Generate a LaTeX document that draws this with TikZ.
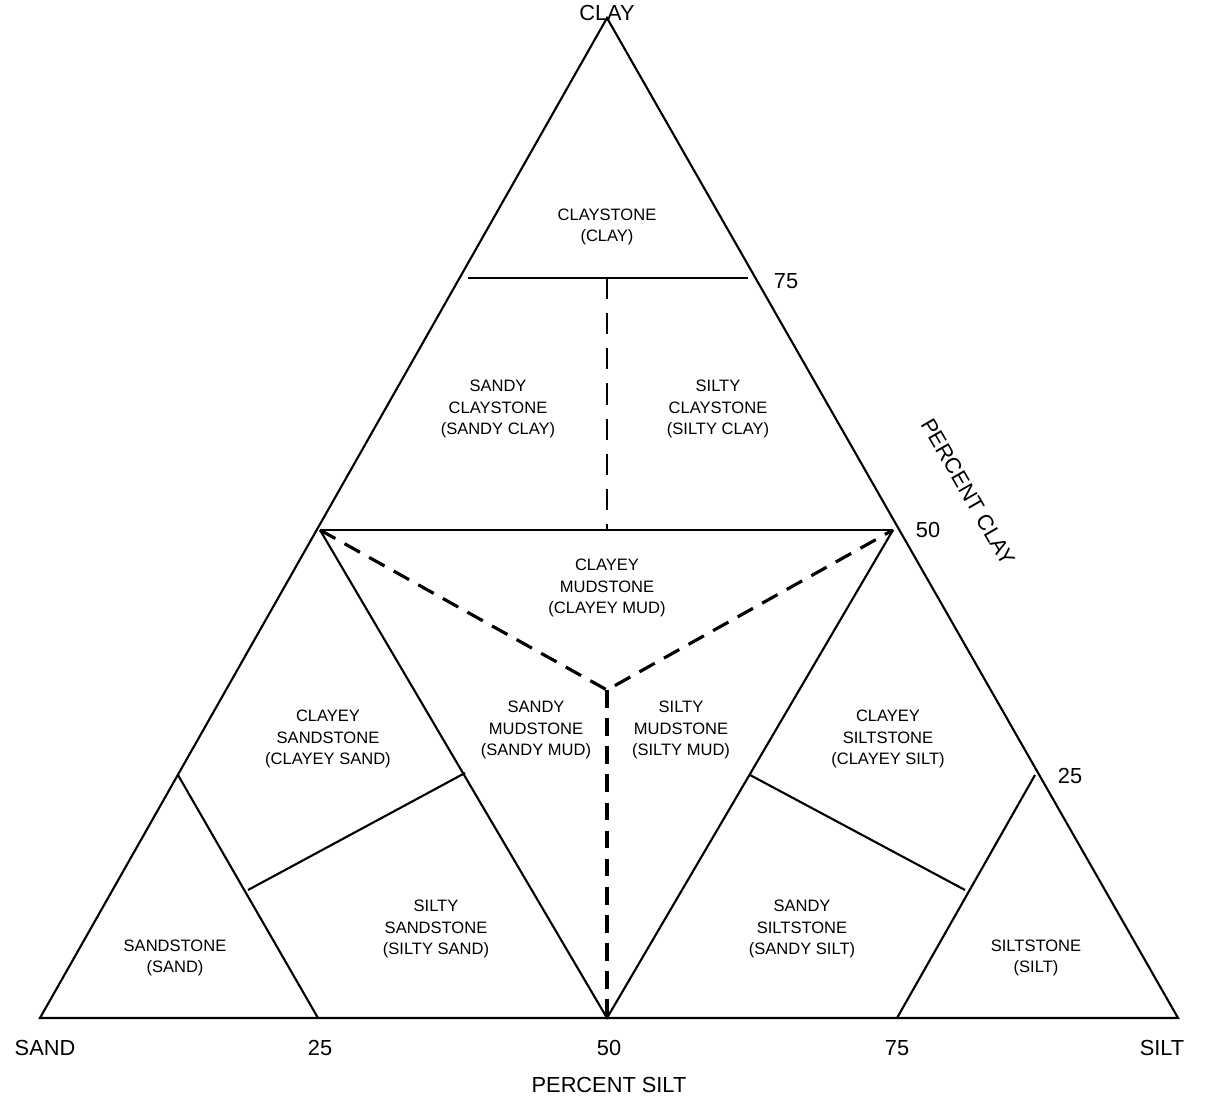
\documentclass[tikz,border=0pt]{standalone}
\usepackage{fontspec}
\setmainfont{Liberation Sans}
\begin{document}
\begin{tikzpicture}[x=0.01cm,y=-0.01cm,
  edge/.style={line width=0.6pt,black},
  dash1/.style={line width=0.6pt,dashed,dash pattern=on 6pt off 4pt},
  dash2/.style={line width=0.9pt,dash pattern=on 5pt off 3pt},
  lab/.style={font=\fontsize{4.7pt}{6.1pt}\selectfont,align=center},
  ax/.style={font=\fontsize{6.2pt}{7.5pt}\selectfont}]
\useasboundingbox (0,0) rectangle (1215,1098);
\coordinate (sand) at (40,1018);
\coordinate (silt) at (1178,1018);
\coordinate (clay) at (607,18);
\coordinate (l75) at (468,278); \coordinate (r75) at (748,278);
\coordinate (l50) at (320,530); \coordinate (r50) at (893,530);
\coordinate (t75) at (607,278); \coordinate (t50) at (607,530);
\coordinate (ctr) at (607,690); \coordinate (b50) at (607,1018);
\coordinate (l25) at (178,775); \coordinate (b25) at (318,1018);
\coordinate (r25) at (1035,775); \coordinate (b75) at (897,1018);
\coordinate (la) at (248,890); \coordinate (lb) at (465,773);
\coordinate (ra) at (750,775); \coordinate (rb) at (965,890);
\draw[edge,line join=miter] (sand) -- (silt) -- (clay) -- cycle;
\draw[edge] (l75) -- (r75);
\draw[edge] (l50) -- (r50);
\draw[edge] (l50) -- (b50) -- (r50);
\draw[edge] (l25) -- (b25);
\draw[edge] (r25) -- (b75);
\draw[edge] (la) -- (lb);
\draw[edge] (ra) -- (rb);
\draw[dash1] (t75) -- (t50);
\draw[dash2] (l50) -- (ctr) -- (r50);
\draw[dash2] (ctr) -- (b50);
\node[lab] (n1) at (607,227) {CLAYSTONE\\(CLAY)};
\node[lab] (n2) at (498,409) {SANDY\\CLAYSTONE\\(SANDY CLAY)};
\node[lab] (n3) at (718,409) {SILTY\\CLAYSTONE\\(SILTY CLAY)};
\node[lab] (n4) at (607,588) {CLAYEY\\MUDSTONE\\(CLAYEY MUD)};
\node[lab] (n5) at (536,730) {SANDY\\MUDSTONE\\(SANDY MUD)};
\node[lab] (n6) at (681,730) {SILTY\\MUDSTONE\\(SILTY MUD)};
\node[lab] (n7) at (328,739) {CLAYEY\\SANDSTONE\\(CLAYEY SAND)};
\node[lab] (n8) at (888,739) {CLAYEY\\SILTSTONE\\(CLAYEY SILT)};
\node[lab] (n9) at (436,929) {SILTY\\SANDSTONE\\(SILTY SAND)};
\node[lab] (n10) at (802,929) {SANDY\\SILTSTONE\\(SANDY SILT)};
\node[lab] (n11) at (175,958) {SANDSTONE\\(SAND)};
\node[lab] (n12) at (1036,958) {SILTSTONE\\(SILT)};
\node[ax] (tclay) at (607,13) {CLAY};
\node[ax] (tsand) at (45,1048) {SAND};
\node[ax] (tsilt) at (1162,1048) {SILT};
\node[ax] (t25) at (320,1048) {25};
\node[ax] (t50b) at (609,1048) {50};
\node[ax] (t75b) at (897,1048) {75};
\node[ax] (ps) at (609,1085) {PERCENT SILT};
\node[ax] (c75) at (786,281) {75};
\node[ax] (c50) at (928,530) {50};
\node[ax] (c25) at (1070,776) {25};
\node[ax,rotate=-60,inner sep=0pt] (pc) at (968,492) {PERCENT CLAY};
\end{tikzpicture}
\end{document}
